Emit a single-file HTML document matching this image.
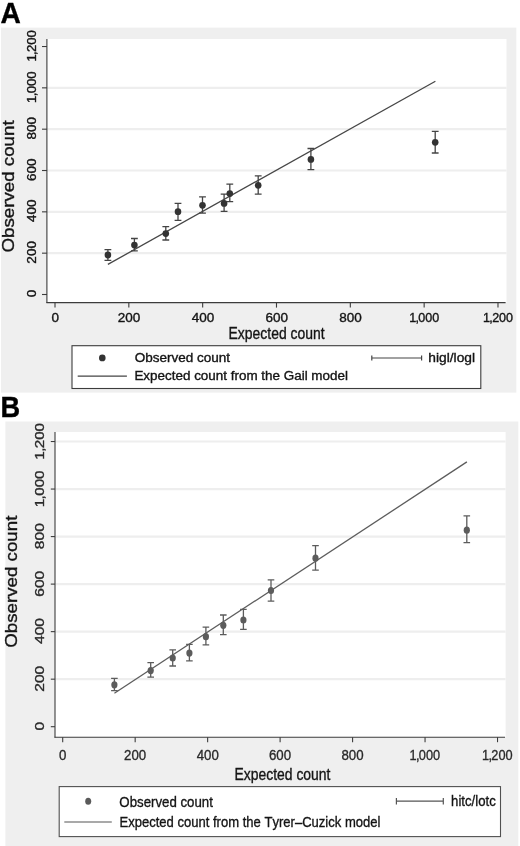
<!DOCTYPE html>
<html><head><meta charset="utf-8"><title>Figure</title>
<style>
html,body{margin:0;padding:0;background:#fff;}
body{width:520px;height:846px;overflow:hidden;}
svg{display:block;font-family:"Liberation Sans", Arial, Helvetica, sans-serif;font-kerning:none;}
text{font-kerning:none;stroke-width:0.35px;}
</style></head><body>
<svg width="520" height="846" viewBox="0 0 520 846">
<rect width="520" height="846" fill="#fff"/>
<text transform="translate(0.45,22.6) scale(0.9600,1)" font-size="29.3" font-weight="bold" fill="#000" stroke="#000">A</text>
<rect x="1" y="27.6" width="515.3" height="365" fill="#efefef"/>
<rect x="47" y="39" width="459.5" height="263.5" fill="#fff"/>
<line x1="47" y1="253.17" x2="506.5" y2="253.17" stroke="#eeeeee" stroke-width="2.2"/>
<line x1="47" y1="211.84" x2="506.5" y2="211.84" stroke="#eeeeee" stroke-width="2.2"/>
<line x1="47" y1="170.51" x2="506.5" y2="170.51" stroke="#eeeeee" stroke-width="2.2"/>
<line x1="47" y1="129.18" x2="506.5" y2="129.18" stroke="#eeeeee" stroke-width="2.2"/>
<line x1="47" y1="87.85" x2="506.5" y2="87.85" stroke="#eeeeee" stroke-width="2.2"/>
<line x1="46.9" y1="39" x2="46.9" y2="303" stroke="#3c3c3c" stroke-width="1.1"/>
<line x1="46.4" y1="302.6" x2="505.6" y2="302.6" stroke="#3c3c3c" stroke-width="1.1"/>
<line x1="42" y1="294.5" x2="47" y2="294.5" stroke="#3c3c3c" stroke-width="1.1"/>
<text transform="translate(35.5,297.36) rotate(-90) scale(1.1000,1)" font-size="12.3" fill="#141414" stroke="#141414">0</text>
<line x1="42" y1="253.17" x2="47" y2="253.17" stroke="#3c3c3c" stroke-width="1.1"/>
<text transform="translate(35.5,263.63) rotate(-90) scale(1.1000,1)" font-size="12.3" fill="#141414" stroke="#141414">200</text>
<line x1="42" y1="211.84" x2="47" y2="211.84" stroke="#3c3c3c" stroke-width="1.1"/>
<text transform="translate(35.5,222.12) rotate(-90) scale(1.1000,1)" font-size="12.3" fill="#141414" stroke="#141414">400</text>
<line x1="42" y1="170.51" x2="47" y2="170.51" stroke="#3c3c3c" stroke-width="1.1"/>
<text transform="translate(35.5,180.98) rotate(-90) scale(1.1000,1)" font-size="12.3" fill="#141414" stroke="#141414">600</text>
<line x1="42" y1="129.18" x2="47" y2="129.18" stroke="#3c3c3c" stroke-width="1.1"/>
<text transform="translate(35.5,139.6) rotate(-90) scale(1.1000,1)" font-size="12.3" fill="#141414" stroke="#141414">800</text>
<line x1="42" y1="87.85" x2="47" y2="87.85" stroke="#3c3c3c" stroke-width="1.1"/>
<text transform="translate(35.5,102.95) rotate(-90) scale(1.0664,1)" font-size="12.3" fill="#141414" stroke="#141414">1<tspan dx="-0.62">,</tspan><tspan dx="-0.62">000</tspan></text>
<line x1="42" y1="46.52" x2="47" y2="46.52" stroke="#3c3c3c" stroke-width="1.1"/>
<text transform="translate(35.5,61.62) rotate(-90) scale(1.0664,1)" font-size="12.3" fill="#141414" stroke="#141414">1<tspan dx="-0.62">,</tspan><tspan dx="-0.62">200</tspan></text>
<line x1="55" y1="302.6" x2="55" y2="307.6" stroke="#3c3c3c" stroke-width="1.1"/>
<text transform="translate(51.54,322.1) scale(1.1000,1)" font-size="12.3" fill="#141414" stroke="#141414">0</text>
<line x1="128.83" y1="302.6" x2="128.83" y2="307.6" stroke="#3c3c3c" stroke-width="1.1"/>
<text transform="translate(117.77,322.1) scale(1.1000,1)" font-size="12.3" fill="#141414" stroke="#141414">200</text>
<line x1="202.66" y1="302.6" x2="202.66" y2="307.6" stroke="#3c3c3c" stroke-width="1.1"/>
<text transform="translate(191.78,322.1) scale(1.1000,1)" font-size="12.3" fill="#141414" stroke="#141414">400</text>
<line x1="276.49" y1="302.6" x2="276.49" y2="307.6" stroke="#3c3c3c" stroke-width="1.1"/>
<text transform="translate(265.42,322.1) scale(1.1000,1)" font-size="12.3" fill="#141414" stroke="#141414">600</text>
<line x1="350.32" y1="302.6" x2="350.32" y2="307.6" stroke="#3c3c3c" stroke-width="1.1"/>
<text transform="translate(339.3,322.1) scale(1.1000,1)" font-size="12.3" fill="#141414" stroke="#141414">800</text>
<line x1="424.15" y1="302.6" x2="424.15" y2="307.6" stroke="#3c3c3c" stroke-width="1.1"/>
<text transform="translate(409.14,322.1) scale(1.0202,1)" font-size="12.3" fill="#141414" stroke="#141414">1<tspan dx="-0.62">,</tspan><tspan dx="-0.62">000</tspan></text>
<line x1="497.98" y1="302.6" x2="497.98" y2="307.6" stroke="#3c3c3c" stroke-width="1.1"/>
<text transform="translate(482.97,322.1) scale(1.0202,1)" font-size="12.3" fill="#141414" stroke="#141414">1<tspan dx="-0.62">,</tspan><tspan dx="-0.62">200</tspan></text>
<text transform="translate(228.56,339.4) scale(0.8400,1)" font-size="16.6" fill="#141414" stroke="#141414">Expected count</text>
<text transform="translate(14.3,252.49) rotate(-90) scale(1.1850,1)" font-size="15.8" fill="#141414" stroke="#141414">Observed count</text>
<line x1="107.9" y1="264.4" x2="435.4" y2="81.3" stroke="#474747" stroke-width="1.3"/>
<path d="M104.5,249.6H111.3M107.9,249.6V260.4M104.5,260.4H111.3" stroke="#444" stroke-width="1.3" fill="none"/>
<path d="M131,238.5H137.8M134.4,238.5V250.9M131,250.9H137.8" stroke="#444" stroke-width="1.3" fill="none"/>
<path d="M162.4,226.7H169.2M165.8,226.7V240M162.4,240H169.2" stroke="#444" stroke-width="1.3" fill="none"/>
<path d="M174.6,203.3H181.4M178,203.3V220.3M174.6,220.3H181.4" stroke="#444" stroke-width="1.3" fill="none"/>
<path d="M199.1,196.9H205.9M202.5,196.9V213.1M199.1,213.1H205.9" stroke="#444" stroke-width="1.3" fill="none"/>
<path d="M220.7,194.2H227.5M224.1,194.2V211.3M220.7,211.3H227.5" stroke="#444" stroke-width="1.3" fill="none"/>
<path d="M226.4,184.2H233.2M229.8,184.2V201.7M226.4,201.7H233.2" stroke="#444" stroke-width="1.3" fill="none"/>
<path d="M254.8,175.8H261.6M258.2,175.8V194.2M254.8,194.2H261.6" stroke="#444" stroke-width="1.3" fill="none"/>
<path d="M307.5,148.5H314.3M310.9,148.5V169.6M307.5,169.6H314.3" stroke="#444" stroke-width="1.3" fill="none"/>
<path d="M431.8,131.3H438.6M435.2,131.3V153M431.8,153H438.6" stroke="#444" stroke-width="1.3" fill="none"/>
<ellipse cx="107.9" cy="255" rx="3.3" ry="3.4" fill="#333"/>
<ellipse cx="134.4" cy="245.1" rx="3.3" ry="3.4" fill="#333"/>
<ellipse cx="165.8" cy="233.6" rx="3.3" ry="3.4" fill="#333"/>
<ellipse cx="178" cy="211.7" rx="3.3" ry="3.4" fill="#333"/>
<ellipse cx="202.5" cy="205.3" rx="3.3" ry="3.4" fill="#333"/>
<ellipse cx="224.1" cy="203.4" rx="3.3" ry="3.4" fill="#333"/>
<ellipse cx="229.8" cy="193.6" rx="3.3" ry="3.4" fill="#333"/>
<ellipse cx="258.2" cy="185.3" rx="3.3" ry="3.4" fill="#333"/>
<ellipse cx="310.9" cy="159.4" rx="3.3" ry="3.4" fill="#333"/>
<ellipse cx="435.2" cy="142.3" rx="3.3" ry="3.4" fill="#333"/>
<rect x="72" y="345.7" width="408.8" height="42.8" fill="#fff" stroke="#3c3c3c" stroke-width="1.1"/>
<ellipse cx="102.3" cy="357.9" rx="3.3" ry="3.4" fill="#333"/>
<line x1="77.7" y1="376.2" x2="126.9" y2="376.2" stroke="#444" stroke-width="1.2"/>
<text transform="translate(134.66,362.2) scale(1.1000,1)" font-size="12.3" fill="#141414" stroke="#141414">Observed count</text>
<text transform="translate(134.4,380.3) scale(1.0930,1)" font-size="12.3" fill="#141414" stroke="#141414">Expected count from the Gail model</text>
<path d="M371.8,355.5V360.5M371.8,358H421.6M421.6,355.5V360.5" stroke="#444" stroke-width="1.2" fill="none"/>
<text transform="translate(428.34,362.2) scale(1.1200,1)" font-size="12.3" fill="#141414" stroke="#141414">higl/logl</text>
<text transform="translate(0.38,417.1) scale(0.9300,1)" font-size="29.3" font-weight="bold" fill="#000" stroke="#000">B</text>
<rect x="5.4" y="421.5" width="512.9" height="424.5" fill="#efefef"/>
<rect x="55" y="432" width="450.6" height="305" fill="#fff"/>
<line x1="55" y1="679.17" x2="505.6" y2="679.17" stroke="#eeeeee" stroke-width="2.2"/>
<line x1="55" y1="631.64" x2="505.6" y2="631.64" stroke="#eeeeee" stroke-width="2.2"/>
<line x1="55" y1="584.11" x2="505.6" y2="584.11" stroke="#eeeeee" stroke-width="2.2"/>
<line x1="55" y1="536.58" x2="505.6" y2="536.58" stroke="#eeeeee" stroke-width="2.2"/>
<line x1="55" y1="489.05" x2="505.6" y2="489.05" stroke="#eeeeee" stroke-width="2.2"/>
<line x1="55" y1="441.52" x2="505.6" y2="441.52" stroke="#eeeeee" stroke-width="2.2"/>
<line x1="55" y1="432" x2="55" y2="737.5" stroke="#3c3c3c" stroke-width="1.1"/>
<line x1="54.4" y1="737.2" x2="505" y2="737.2" stroke="#3c3c3c" stroke-width="1.1"/>
<line x1="50.8" y1="726.7" x2="55" y2="726.7" stroke="#3c3c3c" stroke-width="1.1"/>
<text transform="translate(43.8,730.54) rotate(-90) scale(1.2000,1)" font-size="13" fill="#2a2a2a" stroke="#2a2a2a">0</text>
<line x1="50.8" y1="679.17" x2="55" y2="679.17" stroke="#3c3c3c" stroke-width="1.1"/>
<text transform="translate(43.8,691.77) rotate(-90) scale(1.2000,1)" font-size="13" fill="#2a2a2a" stroke="#2a2a2a">200</text>
<line x1="50.8" y1="631.64" x2="55" y2="631.64" stroke="#3c3c3c" stroke-width="1.1"/>
<text transform="translate(43.8,644.03) rotate(-90) scale(1.2000,1)" font-size="13" fill="#2a2a2a" stroke="#2a2a2a">400</text>
<line x1="50.8" y1="584.11" x2="55" y2="584.11" stroke="#3c3c3c" stroke-width="1.1"/>
<text transform="translate(43.8,596.72) rotate(-90) scale(1.2000,1)" font-size="13" fill="#2a2a2a" stroke="#2a2a2a">600</text>
<line x1="50.8" y1="536.58" x2="55" y2="536.58" stroke="#3c3c3c" stroke-width="1.1"/>
<text transform="translate(43.8,549.13) rotate(-90) scale(1.2000,1)" font-size="13" fill="#2a2a2a" stroke="#2a2a2a">800</text>
<line x1="50.8" y1="489.05" x2="55" y2="489.05" stroke="#3c3c3c" stroke-width="1.1"/>
<text transform="translate(43.8,507.21) rotate(-90) scale(1.1669,1)" font-size="13" fill="#2a2a2a" stroke="#2a2a2a">1<tspan dx="-0.52">,</tspan><tspan dx="-0.52">000</tspan></text>
<line x1="50.8" y1="441.52" x2="55" y2="441.52" stroke="#3c3c3c" stroke-width="1.1"/>
<text transform="translate(43.8,459.68) rotate(-90) scale(1.1669,1)" font-size="13" fill="#2a2a2a" stroke="#2a2a2a">1<tspan dx="-0.52">,</tspan><tspan dx="-0.52">200</tspan></text>
<line x1="62.7" y1="737.2" x2="62.7" y2="742.2" stroke="#3c3c3c" stroke-width="1.1"/>
<text transform="translate(59.01,759.6) scale(0.8900,1)" font-size="14.9" fill="#2a2a2a" stroke="#2a2a2a">0</text>
<line x1="135.17" y1="737.2" x2="135.17" y2="742.2" stroke="#3c3c3c" stroke-width="1.1"/>
<text transform="translate(124.03,759.6) scale(0.8900,1)" font-size="14.9" fill="#2a2a2a" stroke="#2a2a2a">200</text>
<line x1="207.64" y1="737.2" x2="207.64" y2="742.2" stroke="#3c3c3c" stroke-width="1.1"/>
<text transform="translate(196.68,759.6) scale(0.8900,1)" font-size="14.9" fill="#2a2a2a" stroke="#2a2a2a">400</text>
<line x1="280.11" y1="737.2" x2="280.11" y2="742.2" stroke="#3c3c3c" stroke-width="1.1"/>
<text transform="translate(268.97,759.6) scale(0.8900,1)" font-size="14.9" fill="#2a2a2a" stroke="#2a2a2a">600</text>
<line x1="352.58" y1="737.2" x2="352.58" y2="742.2" stroke="#3c3c3c" stroke-width="1.1"/>
<text transform="translate(341.49,759.6) scale(0.8900,1)" font-size="14.9" fill="#2a2a2a" stroke="#2a2a2a">800</text>
<line x1="425.05" y1="737.2" x2="425.05" y2="742.2" stroke="#3c3c3c" stroke-width="1.1"/>
<text transform="translate(409.48,759.6) scale(0.8568,1)" font-size="14.9" fill="#2a2a2a" stroke="#2a2a2a">1<tspan dx="-0.75">,</tspan><tspan dx="-0.75">000</tspan></text>
<line x1="497.52" y1="737.2" x2="497.52" y2="742.2" stroke="#3c3c3c" stroke-width="1.1"/>
<text transform="translate(481.95,759.6) scale(0.8568,1)" font-size="14.9" fill="#2a2a2a" stroke="#2a2a2a">1<tspan dx="-0.75">,</tspan><tspan dx="-0.75">200</tspan></text>
<text transform="translate(234.56,779.6) scale(0.8330,1)" font-size="16.7" fill="#141414" stroke="#141414">Expected count</text>
<text transform="translate(16.5,647.79) rotate(-90) scale(1.1560,1)" font-size="16.2" fill="#141414" stroke="#141414">Observed count</text>
<line x1="114.4" y1="693.3" x2="466.9" y2="461.9" stroke="#5c5c5c" stroke-width="1.3"/>
<path d="M111.1,678.4H117.7M114.4,678.4V690.7M111.1,690.7H117.7" stroke="#5c5c5c" stroke-width="1.3" fill="none"/>
<path d="M147.4,662.7H154M150.7,662.7V677.1M147.4,677.1H154" stroke="#5c5c5c" stroke-width="1.3" fill="none"/>
<path d="M169.4,649.8H176M172.7,649.8V666M169.4,666H176" stroke="#5c5c5c" stroke-width="1.3" fill="none"/>
<path d="M186.1,644.4H192.7M189.4,644.4V660.9M186.1,660.9H192.7" stroke="#5c5c5c" stroke-width="1.3" fill="none"/>
<path d="M202.6,627.1H209.2M205.9,627.1V644.8M202.6,644.8H209.2" stroke="#5c5c5c" stroke-width="1.3" fill="none"/>
<path d="M220,615H226.6M223.3,615V634.6M220,634.6H226.6" stroke="#5c5c5c" stroke-width="1.3" fill="none"/>
<path d="M240.1,609.4H246.7M243.4,609.4V629.4M240.1,629.4H246.7" stroke="#5c5c5c" stroke-width="1.3" fill="none"/>
<path d="M267.7,579.8H274.3M271,579.8V601.1M267.7,601.1H274.3" stroke="#5c5c5c" stroke-width="1.3" fill="none"/>
<path d="M312.2,545.7H318.8M315.5,545.7V570.2M312.2,570.2H318.8" stroke="#5c5c5c" stroke-width="1.3" fill="none"/>
<path d="M463.5,515.8H470.1M466.8,515.8V542.7M463.5,542.7H470.1" stroke="#5c5c5c" stroke-width="1.3" fill="none"/>
<ellipse cx="114.4" cy="684.8" rx="3.1" ry="3.6" fill="#5c5c5c"/>
<ellipse cx="150.7" cy="670.6" rx="3.1" ry="3.6" fill="#5c5c5c"/>
<ellipse cx="172.7" cy="658" rx="3.1" ry="3.6" fill="#5c5c5c"/>
<ellipse cx="189.4" cy="653.1" rx="3.1" ry="3.6" fill="#5c5c5c"/>
<ellipse cx="205.9" cy="636.7" rx="3.1" ry="3.6" fill="#5c5c5c"/>
<ellipse cx="223.3" cy="625.3" rx="3.1" ry="3.6" fill="#5c5c5c"/>
<ellipse cx="243.4" cy="620" rx="3.1" ry="3.6" fill="#5c5c5c"/>
<ellipse cx="271" cy="590.5" rx="3.1" ry="3.6" fill="#5c5c5c"/>
<ellipse cx="315.5" cy="558.2" rx="3.1" ry="3.6" fill="#5c5c5c"/>
<ellipse cx="466.8" cy="530.2" rx="3.1" ry="3.6" fill="#5c5c5c"/>
<rect x="59.2" y="786.6" width="441.3" height="50" fill="#fff" stroke="#505050" stroke-width="1.1"/>
<ellipse cx="88.2" cy="801.2" rx="3" ry="3.5" fill="#5a5a5a"/>
<line x1="64.3" y1="822" x2="111.8" y2="822" stroke="#555" stroke-width="1.2"/>
<text transform="translate(119.37,807) scale(0.8720,1)" font-size="15.2" fill="#141414" stroke="#141414">Observed count</text>
<text transform="translate(119.43,827.4) scale(0.8590,1)" font-size="15.2" fill="#141414" stroke="#141414">Expected count from the Tyrer–Cuzick model</text>
<path d="M396.4,798V804.4M396.4,801.2H443.3M443.3,798V804.4" stroke="#555" stroke-width="1.2" fill="none"/>
<text transform="translate(451.09,806.3) scale(0.8680,1)" font-size="15.2" fill="#141414" stroke="#141414">hitc/lotc</text>
</svg>
</body></html>
